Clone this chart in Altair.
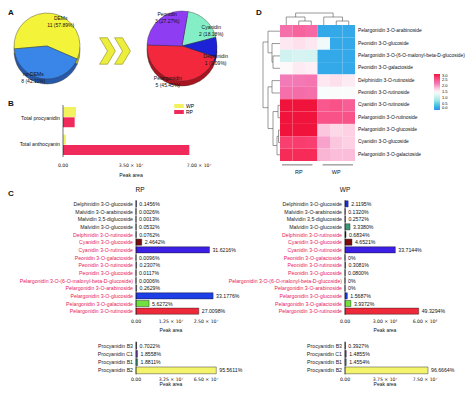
import math
import altair as alt
import pandas as pd

OFF = 8
def px(v):
    return v - OFF
def py(v):
    return v - OFF

FONT = "Liberation Sans"
TFONT = "DejaVu Sans"
FS = 5.2

# ---------------- Panel A data ----------------
pie1_names = ["DEMs", "no-DEMs"]
pie1_counts = [11, 8]
pie1_pcts = ["57.89%", "42.11%"]
pie1_colors = ["#f3f33a", "#3a85e8"]
pie1_dark = ["#b9b924", "#2759a8"]

pie2_names = ["Cyanidin", "Delphinidin", "Pelargonidin", "Peonidin"]
pie2_counts = [2, 1, 5, 3]
pie2_pcts = ["18.18%", "9.09%", "45.45%", "27.27%"]
pie2_colors = ["#84efc6", "#1c22d6", "#f4283c", "#8f3df2"]
pie2_dark = ["#4fae8a", "#10138a", "#a8141f", "#5a1fa8"]

arrow_ids = [1, 2]

# ---------------- Panel B data ----------------
b_cats = ["Total procyanidin", "Total anthocyanin"]
b_groups = ["WP", "RP"]
b_wp = [0.67e7, 0.15e7]
b_rp = [0.60e7, 6.50e7]
b_colors = ["#f2f25e", "#f02a5a"]
b_ticks = [0, 3.5e7, 7.0e7]
b_tick_labels = ["0.00", "3.50 × 10⁷", "7.00 × 10⁷"]

# ---------------- Panel D data ----------------
hm_rows = [
    "Pelargonidin 3-O-arabinoside",
    "Peonidin 3-O-glucoside",
    "Pelargonidin 3-O-(6-O-malonyl-beta-D-glucoside)",
    "Peonidin 3-O-galactoside",
    "Delphinidin 3-O-rutinoside",
    "Peonidin 3-O-rutinoside",
    "Cyanidin 3-O-rutinoside",
    "Pelargonidin 3-O-rutinoside",
    "Pelargonidin 3-O-glucoside",
    "Cyanidin 3-O-glucoside",
    "Pelargonidin 3-O-galactoside",
]
hm_cols = ["RP-1", "RP-2", "RP-3", "WP-1", "WP-2", "WP-3"]
hm_vals = [
    [2.30, 2.40, 2.35, 0.20, 0.20, 0.20],
    [1.62, 1.66, 1.62, 1.40, 0.20, 0.20],
    [1.15, 1.20, 1.18, 0.20, 0.20, 0.20],
    [1.52, 1.60, 1.58, 0.20, 0.20, 0.20],
    [2.20, 2.22, 2.25, 1.62, 1.66, 1.60],
    [2.30, 2.32, 2.30, 1.46, 1.48, 1.48],
    [3.00, 3.00, 3.00, 2.50, 2.55, 2.45],
    [3.00, 3.00, 3.00, 2.55, 2.55, 2.55],
    [3.00, 3.00, 3.00, 1.80, 1.70, 1.75],
    [2.70, 2.72, 2.70, 2.00, 1.80, 1.75],
    [2.85, 2.85, 2.85, 1.90, 1.85, 1.85],
]
hm_legend_values = [0.0, 0.5, 1.0, 1.5, 2.0, 2.5, 3.0]
hm_groups = ["RP", "WP"]
# linkage: (node a, node b, merge height); leaves are 0..n-1, new nodes numbered after
row_links = [(2, 3, 7.0), (1, 11, 8.0), (0, 12, 12.0), (4, 5, 8.0), (6, 7, 2.0),
             (8, 9, 1.5), (16, 10, 3.0), (15, 17, 7.0), (14, 18, 12.0), (13, 19, 17.0)]
col_links = [(1, 2, 4.0), (0, 6, 8.0), (4, 5, 4.0), (3, 8, 8.0), (7, 9, 12.0)]

# ---------------- Panel C data ----------------
anth_names = [
    "Delphinidin 3-O-glucoside", "Malvidin 3-O-arabinoside", "Malvidin 3,5-diglucoside",
    "Malvidin 3-O-glucoside", "Delphinidin 3-O-rutinoside", "Cyanidin 3-O-glucoside",
    "Cyanidin 3-O-rutinoside", "Peonidin 3-O-galactoside", "Peonidin 3-O-rutinoside",
    "Peonidin 3-O-glucoside", "Pelargonidin 3-O-(6-O-malonyl-beta-D-glucoside)",
    "Pelargonidin 3-O-arabinoside", "Pelargonidin 3-O-glucoside",
    "Pelargonidin 3-O-galactoside", "Pelargonidin 3-O-rutinoside",
]
anth_label_colors = ["#222222"] * 4 + ["#e8195a"] * 11
anth_bar_colors = ["#2030dd", "#888888", "#888888", "#3a9b7a", "#222222", "#7a0e0e",
                   "#3b1fe4", "#888888", "#888888", "#888888", "#888888", "#888888",
                   "#1e3ee6", "#6fe03c", "#ee2a3a"]
rp_anth_pct = [0.1456, 0.0026, 0.0013, 0.0532, 0.0762, 2.4642, 31.6216, 0.0096,
               0.2307, 0.0117, 0.0006, 0.2629, 33.1776, 5.6272, 27.0098]
wp_anth_pct = [2.1195, 0.1320, 0.2572, 3.3380, 0.6834, 4.6521, 33.7144, 0.0,
               0.3081, 0.0800, 0.0, 0.0, 1.5687, 3.9372, 49.3294]
rp_anth_total = 8.3e7
wp_anth_total = 1.12e7
rp_anth_ticks = [0, 1.25e7, 2.5e7]
rp_anth_tick_labels = ["0.00", "1.25 × 10⁷", "2.50 × 10⁷"]
wp_anth_ticks = [0, 3.0e6, 6.0e6]
wp_anth_tick_labels = ["0.00", "3.00 × 10⁶", "6.00 × 10⁶"]

pro_names = ["Procyanidin B3", "Procyanidin C1", "Procyanidin B1", "Procyanidin B2"]
pro_label_colors = ["#222222"] * 4
pro_bar_colors = ["#333333", "#7a4fd0", "#3fae96", "#f4f46c"]
rp_pro_pct = [0.7022, 1.8558, 1.8811, 95.5611]
wp_pro_pct = [0.3927, 1.4855, 1.4554, 96.6664]
rp_pro_total = 7.8e7
wp_pro_total = 8.05e7
rp_pro_ticks = [0, 3.25e7, 6.5e7]
rp_pro_tick_labels = ["0.00", "3.25 × 10⁷", "6.50 × 10⁷"]
wp_pro_ticks = [0, 3.75e7, 7.5e7]
wp_pro_tick_labels = ["0.00", "3.75 × 10⁷", "7.50 × 10⁷"]

ONE = pd.DataFrame({"k": [0]})
layers = []


def text_at(txt, x, y, size=FS, weight="normal", align="center", color="#111111"):
    return alt.Chart(ONE).mark_text(text=txt, fontSize=size, fontWeight=weight, align=align,
                                    baseline="middle", font=FONT, color=color).encode(
        x=alt.value(px(x)), y=alt.value(py(y)))


# ---------------- Panel A ----------------
def pie_layers(names, counts, pcts, colors, dark, cx, cy, r, start_deg, label_r, rot):
    df = pd.DataFrame({"name": names, "count": counts, "ord": list(range(len(names)))})
    df["label"] = [f"{n}\n{c} ({p})" for n, c, p in zip(names, counts, pcts)]
    s = math.radians(start_deg)
    base = alt.Chart(df)
    enc = dict(order=alt.Order("ord:Q"), detail="name:N")
    side = base.mark_arc(outerRadius=r, stroke="#333333", strokeWidth=0.4).encode(
        theta=alt.Theta("count:Q", stack=True, scale=alt.Scale(range=[s, s + 2 * math.pi])),
        color=alt.Color("name:N", scale=alt.Scale(domain=names, range=dark), legend=None),
        x=alt.value(px(cx)), y=alt.value(py(cy + 5)), **enc)
    top = base.mark_arc(outerRadius=r, stroke="#333333", strokeWidth=0.4).encode(
        theta=alt.Theta("count:Q", stack=True, scale=alt.Scale(range=[s, s + 2 * math.pi])),
        color=alt.Color("name:N", scale=alt.Scale(domain=names, range=colors), legend=None),
        x=alt.value(px(cx)), y=alt.value(py(cy)), **enc)
    lr = math.radians(start_deg + rot)
    lab = base.mark_text(radius=label_r, fontSize=5, lineBreak="\n", font=FONT,
                         color="#111111").encode(
        theta=alt.Theta("count:Q", stack=True, scale=alt.Scale(range=[lr, lr + 2 * math.pi])),
        text="label:N", x=alt.value(px(cx)), y=alt.value(py(cy)), **enc)
    return [side, top, lab]


layers += pie_layers(pie1_names, pie1_counts, pie1_pcts, pie1_colors, pie1_dark,
                     47, 46, 33, -95, 31, 17)
layers += pie_layers(pie2_names, pie2_counts, pie2_pcts, pie2_colors, pie2_dark,
                     182, 46, 35, 10, 35, 14)
layers.append(
    alt.Chart(pd.DataFrame({"i": arrow_ids})).mark_point(
        shape="M-0.6,-1L0,-1L0.6,0L0,1L-0.6,1L0,0Z", filled=True, fill="#eded3c",
        stroke="#8a8a20", strokeWidth=0.6, size=700, opacity=1).encode(
        x=alt.X("i:Q", scale=alt.Scale(domain=[0.5, 2.5], range=[px(100), px(130)]), axis=None),
        y=alt.value(py(51))))

# ---------------- Panel B ----------------
bdf = pd.DataFrame({"cat": b_cats * 2, "grp": ["WP"] * 2 + ["RP"] * 2, "val": b_wp + b_rp})
bx = alt.Scale(domain=[0, b_ticks[-1]], range=[px(63), px(199)], nice=False)
by = alt.Scale(domain=b_cats, range=[py(105), py(157)], paddingInner=0.27, paddingOuter=0.07)
layers.append(alt.Chart(bdf).mark_bar().encode(
    x=alt.X("val:Q", scale=bx, axis=None),
    y=alt.Y("cat:N", scale=by, axis=None),
    yOffset=alt.YOffset("grp:N", scale=alt.Scale(domain=b_groups, paddingInner=0.04)),
    color=alt.Color("grp:N", scale=alt.Scale(domain=b_groups, range=b_colors),
                    legend=alt.Legend(orient="none", legendX=px(176), legendY=py(103), title=None,
                                      symbolType="M-1.6,-0.67H1.6V0.67H-1.6Z", symbolSize=36,
                                      symbolStrokeWidth=0, labelFontSize=5, labelFont=FONT,
                                      rowPadding=0, labelOffset=4, padding=0))))
layers.append(alt.Chart(pd.DataFrame({"cat": b_cats})).mark_text(
    align="right", fontSize=FS, font=FONT, color="#111111").encode(
    x=alt.value(px(60)), y=alt.Y("cat:N", scale=by, axis=None), text="cat:N"))
layers.append(alt.Chart(ONE).mark_rule(color="#111111", strokeWidth=0.6).encode(
    x=alt.value(px(63)), y=alt.value(py(105)), y2=alt.value(py(157))))
layers.append(alt.Chart(pd.DataFrame({"t": b_ticks, "lab": b_tick_labels})).mark_text(
    fontSize=4.6, font=TFONT, color="#111111").encode(
    x=alt.X("t:Q", scale=bx, axis=None), y=alt.value(py(166)), text="lab:N"))
layers.append(text_at("Peak area", 131, 175))

# ---------------- Panel D ----------------
HX0, HX1, HY0, HY1 = 280, 355, 25, 161
hm_df = pd.DataFrame([{"row": r, "col": c, "v": hm_vals[i][j]}
                      for i, r in enumerate(hm_rows) for j, c in enumerate(hm_cols)])
hxs = alt.Scale(domain=hm_cols, range=[px(HX0), px(HX1)], paddingInner=0, paddingOuter=0)
hys = alt.Scale(domain=hm_rows, range=[py(HY0), py(HY1)], paddingInner=0, paddingOuter=0)
layers.append(alt.Chart(hm_df).mark_rect().encode(
    x=alt.X("col:N", scale=hxs, axis=None),
    y=alt.Y("row:N", scale=hys, axis=None),
    color=alt.Color("v:Q", scale=alt.Scale(domain=[0, 0.8, 1.5, 2.2, 3.0],
                                           range=["#3a8fe6", "#9fe8e6", "#fdfdfd", "#f27ab6", "#f0143c"]),
                    legend=alt.Legend(orient="none", legendX=px(434), legendY=py(74), title=None,
                                      direction="vertical", gradientLength=36, gradientThickness=6,
                                      values=hm_legend_values, format=".1f", labelFontSize=4,
                                      labelFont=FONT, labelOverlap=False, gradientStrokeWidth=0,
                                      labelOffset=2, padding=0))))
layers.append(alt.Chart(pd.DataFrame({"row": hm_rows})).mark_text(
    align="left", fontSize=4.9, font=FONT, color="#111111").encode(
    x=alt.value(px(358)), y=alt.Y("row:N", scale=hys, axis=None), text="row:N"))


def dendro(links, n):
    pos = {i: float(i) for i in range(n)}
    hgt = {i: 0.0 for i in range(n)}
    segs = []
    nid = n
    for a, b, h in links:
        segs.append({"p1": pos[a], "p2": pos[b], "h1": h, "h2": h})
        segs.append({"p1": pos[a], "p2": pos[a], "h1": hgt[a], "h2": h})
        segs.append({"p1": pos[b], "p2": pos[b], "h1": hgt[b], "h2": h})
        pos[nid] = (pos[a] + pos[b]) / 2
        hgt[nid] = h
        nid += 1
    return pd.DataFrame(segs)


rdf = dendro(row_links, len(hm_rows))
rh = alt.Scale(domain=[0, 17], range=[px(HX0), px(263)])
rp_ = alt.Scale(domain=[-0.5, len(hm_rows) - 0.5], range=[py(HY0), py(HY1)])
layers.append(alt.Chart(rdf).mark_rule(color="#555555", strokeWidth=0.6).encode(
    x=alt.X("h1:Q", scale=rh, axis=None), x2="h2:Q",
    y=alt.Y("p1:Q", scale=rp_, axis=None), y2="p2:Q"))
cdf = dendro(col_links, len(hm_cols))
ch = alt.Scale(domain=[0, 12], range=[py(HY0), py(13)])
cp = alt.Scale(domain=[-0.5, len(hm_cols) - 0.5], range=[px(HX0), px(HX1)])
layers.append(alt.Chart(cdf).mark_rule(color="#555555", strokeWidth=0.6).encode(
    x=alt.X("p1:Q", scale=cp, axis=None), x2="p2:Q",
    y=alt.Y("h1:Q", scale=ch, axis=None), y2="h2:Q"))
gxs = alt.Scale(domain=hm_groups, range=[px(HX0), px(HX1)], paddingInner=0.25, paddingOuter=0.05)
gdf = pd.DataFrame({"g": hm_groups})
layers.append(alt.Chart(gdf).mark_rect(color="#555555").encode(
    x=alt.X("g:N", scale=gxs, axis=None), y=alt.value(py(164.5)), y2=alt.value(py(165.3))))
layers.append(alt.Chart(gdf).mark_text(fontSize=5.5, font=FONT, color="#111111").encode(
    x=alt.X("g:N", scale=gxs, axis=None), y=alt.value(py(172)), text="g:N"))


# ---------------- Panel C ----------------
def fmt_pct(p):
    return "0%" if p == 0 else f"{p:.4f}%"


def hpanel(names, lcolors, bcolors, pcts, total, ticks, tlabels, x0, x1, ytop, ybot, pad,
           tick_y, title_y):
    df = pd.DataFrame({"name": names, "lc": lcolors, "bc": bcolors,
                       "val": [p / 100 * total for p in pcts], "lab": [fmt_pct(p) for p in pcts]})
    xs = alt.Scale(domain=[0, ticks[-1]], range=[px(x0), px(x1)], nice=False)
    ys = alt.Scale(domain=names, range=[py(ytop), py(ybot)], paddingInner=pad, paddingOuter=pad / 2)
    out = []
    out.append(alt.Chart(df).mark_bar(stroke="#111111", strokeWidth=0.4).encode(
        x=alt.X("val:Q", scale=xs, axis=None), y=alt.Y("name:N", scale=ys, axis=None),
        color=alt.Color("bc:N", scale=None)))
    out.append(alt.Chart(df).mark_text(align="right", fontSize=FS, font=FONT).encode(
        x=alt.value(px(x0 - 3)), y=alt.Y("name:N", scale=ys, axis=None), text="name:N",
        color=alt.Color("lc:N", scale=None)))
    out.append(alt.Chart(df).mark_text(align="left", dx=3, fontSize=FS, font=FONT,
                                       color="#111111").encode(
        x=alt.X("val:Q", scale=xs, axis=None), y=alt.Y("name:N", scale=ys, axis=None),
        text="lab:N"))
    out.append(alt.Chart(ONE).mark_rule(color="#111111", strokeWidth=0.6).encode(
        x=alt.value(px(x0)), y=alt.value(py(ytop)), y2=alt.value(py(ybot))))
    out.append(alt.Chart(pd.DataFrame({"t": ticks, "lab": tlabels})).mark_text(
        fontSize=4.6, font=TFONT, color="#111111").encode(
        x=alt.X("t:Q", scale=xs, axis=None), y=alt.value(py(tick_y)), text="lab:N"))
    out.append(text_at("Peak area", (x0 + x1) / 2, title_y, size=5))
    return out


layers += hpanel(anth_names, anth_label_colors, anth_bar_colors, rp_anth_pct, rp_anth_total,
                 rp_anth_ticks, rp_anth_tick_labels, 136, 206, 200, 315, 0.2, 322, 330)
layers += hpanel(anth_names, anth_label_colors, anth_bar_colors, wp_anth_pct, wp_anth_total,
                 wp_anth_ticks, wp_anth_tick_labels, 345, 425, 200, 315, 0.2, 322, 330)
layers += hpanel(pro_names, pro_label_colors, pro_bar_colors, rp_pro_pct, rp_pro_total,
                 rp_pro_ticks, rp_pro_tick_labels, 136, 206, 341.5, 374.5, 0.18, 379.5, 384)
layers += hpanel(pro_names, pro_label_colors, pro_bar_colors, wp_pro_pct, wp_pro_total,
                 wp_pro_ticks, wp_pro_tick_labels, 345, 425, 341.5, 374.5, 0.18, 379.5, 384)
layers.append(text_at("RP", 140, 190, size=6.5))
layers.append(text_at("WP", 345, 190, size=6.5))

# ---------------- Panel letters ----------------
layers.append(text_at("A", 8, 13, size=8, weight="bold", align="left"))
layers.append(text_at("B", 8, 104, size=8, weight="bold", align="left"))
layers.append(text_at("C", 8, 194, size=8, weight="bold", align="left"))
layers.append(text_at("D", 256, 13, size=8, weight="bold", align="left"))

chart = alt.layer(*layers).resolve_scale(
    x="independent", y="independent", color="independent", theta="independent",
    yOffset="independent"
).properties(
    width=458, height=378, padding=0, background="white",
    autosize=alt.AutoSizeParams(type="none")
).configure_view(stroke=None)

chart.save("out.html", embed_options={"renderer": "svg", "actions": False})
